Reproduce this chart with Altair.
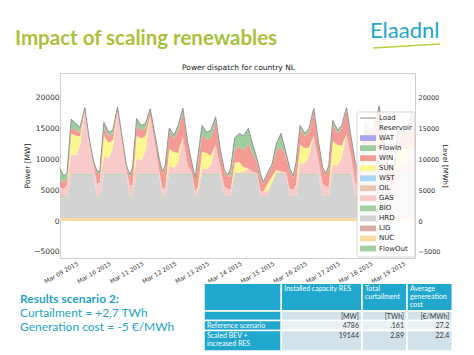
import altair as alt
import pandas as pd

# ---------------- data ----------------
# hours after 2015-03-09 00:00
HOURS = [
    -11.7, -9,
    -6.5, -3.5, 0, 3, 6.5, 10, 13, 15.5,
    17.5, 20.5, 24, 27, 30.5, 34, 37, 39.5,
    41.5, 44.5, 48, 51, 54.5, 58, 61, 63.5,
    65.5, 68.5, 72, 75, 78.5, 82, 85, 87.5,
    89.5, 92.5, 96, 99, 102.5, 106, 109, 111.5,
    113.5, 116.5, 120, 123, 126.5, 130, 133, 135.5,
    137.5, 140.5, 144, 147, 150.5, 154, 157, 159.5,
    161.5, 164.5, 168, 171, 174.5, 178, 181, 183.5,
    185.5, 188.5, 192, 195, 198.5, 202, 205, 207.5,
    209.5, 212.5, 216, 219, 222.5, 226, 229, 231.5,
    233.5, 236.5, 240, 243, 246.5, 248.8,
]
NUC = [480] * 88
BIO = [150] * 88
HRD = [
    3400, 3400,
    3400, 7000, 7000, 7000, 7000, 7000, 7000, 3400,
    3400, 7000, 7000, 7000, 7000, 7000, 7000, 3400,
    3400, 7000, 7000, 7000, 7000, 7000, 7000, 3400,
    3400, 7000, 7000, 7000, 7000, 7000, 7000, 3400,
    3400, 7000, 7000, 7000, 7000, 7000, 3400, 3400,
    3400, 7000, 7000, 7000, 7000, 7000, 7000, 3400,
    3400, 3400, 5500, 7000, 7000, 7000, 3400, 3400,
    3400, 7000, 7000, 7000, 7000, 7000, 3400, 3400,
    3400, 7000, 7000, 7000, 7000, 7000, 3400, 3400,
    3400, 7000, 7000, 7000, 7000, 7000, 3400, 3400,
    3400, 7000, 7000, 7000, 7000, 7000,
]
GAS = [
    1400, 1200,
    1800, 3200, 3000, 4600, 10300, 4800, 1200, 2000,
    2200, 2800, 2600, 4000, 10100, 5000, 600, 1800,
    1800, 2500, 2200, 3800, 9400, 4800, 600, 1300,
    1300, 1300, 1000, 1800, 6000, 1500, 200, 800,
    1200, 800, 800, 1500, 4700, 1000, 1500, 1200,
    1000, 300, 200, 400, 900, 300, 100, 800,
    700, 800, 300, 200, 400, 300, 1200, 1000,
    1500, 1800, 1700, 2800, 6200, 2200, 2000, 1600,
    1500, 1500, 1400, 2600, 6500, 2700, 2200, 1700,
    1800, 1800, 1600, 2800, 7000, 2500, 2300, 1700,
    1500, 1800, 1700, 2600, 5000, 3500,
]
SUN = [
    0, 0,
    0, 3300, 3200, 1500, 0, 0, 0, 0,
    0, 3400, 2400, 1500, 0, 0, 0, 0,
    0, 3700, 3600, 2300, 0, 0, 0, 0,
    0, 2800, 2500, 1600, 0, 0, 0, 0,
    300, 2800, 2600, 1500, 0, 0, 0, 0,
    0, 1500, 1700, 700, 0, 0, 0, 0,
    0, 1200, 800, 500, 0, 0, 0, 0,
    300, 2900, 2500, 1500, 0, 0, 0, 0,
    0, 3800, 3300, 2000, 0, 0, 0, 0,
    0, 3200, 3000, 1700, 0, 0, 0, 0,
    0, 2800, 2500, 1500, 0, 0,
]
WIN = [
    1200, 1000,
    1000, 900, 900, 700, 300, 400, 600, 1800,
    1500, 1300, 1200, 1100, 500, 600, 600, 1400,
    2400, 1600, 1300, 1300, 900, 1300, 1700, 2400,
    3300, 2700, 2200, 3700, 4100, 3300, 1500, 2000,
    3800, 2800, 2200, 2800, 3900, 2500, 2400, 2000,
    2200, 2300, 2500, 2800, 4000, 2900, 1700, 2100,
    1300, 1500, 1800, 3000, 4000, 2600, 2800, 2000,
    3000, 2500, 1900, 2600, 4100, 2700, 2400, 1800,
    3000, 2800, 1900, 2800, 3900, 2900, 3000, 2000,
    2700, 2700, 1800, 2700, 3700, 2600, 2600, 1800,
    2800, 2600, 1900, 2800, 4700, 4000,
]
FLOWIN = [
    1900, 1070,
    970, 1470, 1070, 770, 170, 170, 170, 270,
    270, 870, 570, 470, 270, 270, 270, 270,
    370, 1170, 770, 770, 270, 270, 270, 270,
    370, 670, 570, 770, 570, 270, 170, 170,
    1170, 1470, 1170, 1270, 670, 370, 270, 270,
    1270, 1770, 2170, 2270, 2470, 1370, 570, 670,
    270, 270, 270, 1170, 2170, 670, 470, 270,
    670, 670, 470, 470, 370, 270, 270, 270,
    470, 570, 470, 470, 370, 270, 270, 270,
    470, 670, 470, 470, 370, 270, 270, 270,
    470, 670, 470, 470, 370, 370,
]

STACK_NAMES = ["NUC", "HRD", "BIO", "GAS", "SUN", "WIN", "FlowIn"]
STACK_VALUES = [NUC, HRD, BIO, GAS, SUN, WIN, FLOWIN]

LEGEND_NAMES = ["Load", "Reservoir", "WAT", "FlowIn", "WIN", "SUN", "WST",
                "OIL", "GAS", "BIO", "HRD", "LIG", "NUC", "FlowOut"]
PATCH_NAMES = ["WAT", "FlowIn", "WIN", "SUN", "WST", "OIL", "GAS", "BIO",
               "HRD", "LIG", "NUC", "FlowOut"]
PATCH_COLORS = ["#aaa4ee", "#9dce9d", "#f59b96", "#fbf68f", "#acd6f5", "#ebc6b0",
                "#f9caca", "#a3cfa3", "#d3d3d3", "#d9aca7", "#fdd9a2", "#a3cfa3"]
COLOR_OF = dict(zip(PATCH_NAMES, PATCH_COLORS))

DAY_TICKS = list(range(9, 20))

HEADER = ["", "Installed capacity RES", "Total\ncurtailment", "Average\ngenereation\ncost"]
UNITS = ["[MW]", "[TWh]", "[€/MWh]"]
ROW_LABELS = ["Reference scenario", "Scaled BEV +\nincreased RES"]
CAPACITY = ["4786", "19144"]
CURTAILMENT = [".161", "2.89"]
GEN_COST = ["27.2", "22.4"]

RESULT_LINES = ["Results scenario 2:", "Curtailment = +2,7 TWh", "Generation cost = -5 €/MWh"]

# ---------------- tables ----------------
base = pd.Timestamp("2015-03-09 00:00")
times = [base + pd.Timedelta(hours=h) for h in HOURS]
n = len(HOURS)

# each band as a closed outline: its top edge forward in time, then its bottom edge back
rows = []
running = [0] * n
for name, vals in zip(STACK_NAMES, STACK_VALUES):
    top = [running[i] + vals[i] for i in range(n)]
    for i in range(n):
        rows.append({"t": times[i], "series": name, "v": top[i], "seq": i})
    for j, i in enumerate(range(n - 1, -1, -1)):
        rows.append({"t": times[i], "series": name, "v": running[i], "seq": n + j})
    running = top
band_df = pd.DataFrame(rows)
load_df = pd.DataFrame({"t": times, "load": running})

leg_df = pd.DataFrame({"name": LEGEND_NAMES, "idx": list(range(len(LEGEND_NAMES)))})
patch_df = leg_df[leg_df["name"].isin(PATCH_NAMES)]
loadleg_df = leg_df[leg_df["name"] == "Load"]

cells_df = pd.DataFrame([{"r": r, "c": c} for r in range(4) for c in range(4)])

left_txt = []
for c in range(1, 4):
    left_txt.append({"r": 0, "c": c, "txt": HEADER[c]})
for i, lab in enumerate(ROW_LABELS):
    left_txt.append({"r": 2 + i, "c": 0, "txt": lab})
left_df = pd.DataFrame(left_txt)

right_txt = []
for c, u in enumerate(UNITS):
    right_txt.append({"r": 1, "c": c + 1, "txt": u})
for i in range(2):
    right_txt.append({"r": 2 + i, "c": 1, "txt": CAPACITY[i]})
    right_txt.append({"r": 2 + i, "c": 2, "txt": CURTAILMENT[i]})
    right_txt.append({"r": 2 + i, "c": 3, "txt": GEN_COST[i]})
right_df = pd.DataFrame(right_txt)

res_df = pd.DataFrame({"txt": RESULT_LINES, "line": [0, 1, 2]})

# ---------------- scales ----------------
xdom = [alt.DateTime(year=2015, month=3, date=8, hours=12, minutes=18),
        alt.DateTime(year=2015, month=3, date=19, hours=8, minutes=48)]
xs = alt.Scale(domain=xdom)
ys = alt.Scale(domain=[-6000, 24000], nice=False, zero=False)
color_scale = alt.Scale(domain=PATCH_NAMES, range=PATCH_COLORS)
leg_scale = alt.Scale(domain=[0, 13], range=[45, 175.5], nice=False, zero=False)
tx = alt.Scale(domain=[0, 1, 2, 3, 4], range=[144, 221.3, 302, 347, 392.3], nice=False, zero=False)
ty = alt.Scale(domain=[0, 1, 2, 3, 4], range=[210.3, 238, 247.5, 257.5, 278], nice=False, zero=False)
res_scale = alt.Scale(domain=[0, 2], range=[230, 258], nice=False, zero=False)

one = alt.Data(values=[{}])

band_layers = []
for name in STACK_NAMES:
    band_layers.append(
        alt.Chart(band_df).transform_filter(alt.datum.series == name)
        .mark_line(filled=True, color=COLOR_OF[name], strokeWidth=0, interpolate="linear")
        .encode(
            x=alt.X("t:T", scale=xs, axis=None),
            y=alt.Y("v:Q", scale=ys, axis=None),
            order=alt.Order("seq:Q"),
        )
    )

load_line = alt.Chart(load_df).mark_line(color="#8a8a8a", strokeWidth=0.9).encode(
    x=alt.X("t:T", scale=xs, axis=alt.Axis(
        values=[alt.DateTime(year=2015, month=3, date=d) for d in DAY_TICKS],
        format="%b %d %Y", labelAngle=330, labelAlign="right", labelBaseline="top",
        labelFontSize=6, labelColor="#333333", ticks=False, domain=False, grid=False,
        title=None, labelPadding=2, labelOverlap=False, labelFlush=False)),
    y=alt.Y("load:Q", scale=ys, axis=alt.Axis(
        orient="left", values=[-5000, 0, 5000, 10000, 15000, 20000], format="d",
        labelFontSize=7.5, labelColor="#333333", ticks=False, domain=False, grid=False,
        title="Power [MW]", titleFontSize=7.5, titleFontWeight="normal", titleColor="#222222",
        labelPadding=1, titlePadding=2)),
)

right_axis = alt.Chart(pd.DataFrame({"v": [-5000, 20000]})).mark_tick(opacity=0).encode(
    y=alt.Y("v:Q", scale=ys, axis=alt.Axis(
        orient="right", values=[-5000, 0, 5000, 10000, 15000, 20000], format="d",
        labelFontSize=6.5, labelColor="#333333", ticks=False, domain=False, grid=False,
        title="Level [MWh]", titleFontSize=7, titleFontWeight="normal", titleColor="#222222",
        labelPadding=3, titlePadding=2)),
    x=alt.value(350),
)

leg_box = alt.Chart(one).mark_rect(fill="white", fillOpacity=0.85, stroke="#cccccc",
                                   strokeWidth=0.8, cornerRadius=2).encode(
    x=alt.value(297), x2=alt.value(355), y=alt.value(39), y2=alt.value(184))

leg_patch = alt.Chart(patch_df).mark_point(
    shape="M-1,-0.36H1V0.36H-1Z", size=256, filled=True, opacity=1, strokeWidth=0).encode(
    x=alt.value(308),
    y=alt.Y("idx:Q", scale=leg_scale, axis=None),
    color=alt.Color("name:N", scale=color_scale, legend=None),
)
leg_load = alt.Chart(loadleg_df).mark_rule(color="#8a8a8a", strokeWidth=1).encode(
    x=alt.value(300), x2=alt.value(316), y=alt.Y("idx:Q", scale=leg_scale, axis=None))
leg_text = alt.Chart(leg_df).mark_text(align="left", baseline="middle", font="DejaVu Sans",
                                       fontSize=7, color="#262626").encode(
    x=alt.value(319), y=alt.Y("idx:Q", scale=leg_scale, axis=None), text="name:N")

plot_title = alt.Chart(one).mark_text(text="Power dispatch for country NL", align="center",
                                      baseline="alphabetic", font="DejaVu Sans", fontSize=7.5,
                                      color="#222222").encode(x=alt.value(178.5), y=alt.value(-3))
slide_title = alt.Chart(one).mark_text(text="Impact of scaling renewables", align="left",
                                       baseline="alphabetic", font="Lato", fontSize=20.5,
                                       fontWeight="bold", color="#a8c23c").encode(
    x=alt.value(-45), y=alt.value(-28))
logo = alt.Chart(one).mark_text(text="Elaadnl", align="left", baseline="alphabetic", font="Lato",
                                fontSize=22, color="#1fa6cd").encode(x=alt.value(310), y=alt.value(-35))
swoosh = alt.Chart(one).mark_rule(color="#b9cf3d", strokeWidth=1.5).encode(
    x=alt.value(313), y=alt.value(-25), x2=alt.value(380), y2=alt.value(-29))

res_bold = alt.Chart(res_df[res_df["line"] == 0]).mark_text(
    align="left", baseline="alphabetic", font="Lato", fontSize=12, fontWeight="bold",
    color="#27a3c8").encode(x=alt.value(-40), y=alt.Y("line:Q", scale=res_scale, axis=None), text="txt:N")
res_reg = alt.Chart(res_df[res_df["line"] > 0]).mark_text(
    align="left", baseline="alphabetic", font="Lato", fontSize=12,
    color="#27a3c8").encode(x=alt.value(-40), y=alt.Y("line:Q", scale=res_scale, axis=None), text="txt:N")

table_cells = alt.Chart(cells_df).transform_calculate(
    c1="datum.c + 1", r1="datum.r + 1",
    kind="datum.r == 0 || datum.c == 0 ? 'teal' : (datum.r == 2 ? 'pale' : 'mid')",
).mark_rect(stroke="white", strokeWidth=1.5).encode(
    x=alt.X("c:Q", scale=tx, axis=None), x2="c1:Q",
    y=alt.Y("r:Q", scale=ty, axis=None), y2="r1:Q",
    color=alt.Color("kind:N", scale=alt.Scale(domain=["teal", "pale", "mid"],
                                              range=["#20a7ce", "#e9f1f5", "#d2e2ea"]), legend=None),
)
table_left = alt.Chart(left_df).mark_text(
    align="left", baseline="top", lineBreak="\n", lineHeight=8, font="Lato", fontSize=7,
    color="white", dx=3, dy=1.5).encode(
    x=alt.X("c:Q", scale=tx, axis=None), y=alt.Y("r:Q", scale=ty, axis=None), text="txt:N")
table_right = alt.Chart(right_df).transform_calculate(c1="datum.c + 1").mark_text(
    align="right", baseline="top", font="Lato", fontSize=7, color="#3a3a3a", dx=-3, dy=1.5).encode(
    x=alt.X("c1:Q", scale=tx, axis=None), y=alt.Y("r:Q", scale=ty, axis=None), text="txt:N")

chart = alt.layer(
    *band_layers, load_line, right_axis, leg_box, leg_patch, leg_load, leg_text,
    plot_title, slide_title, logo, swoosh, res_bold, res_reg,
    table_cells, table_left, table_right,
).resolve_scale(
    x="independent", y="independent", color="independent"
).properties(
    width=355, height=185, autosize="none",
    padding={"left": 60, "top": 73, "right": 59, "bottom": 97},
    background="white",
).configure_view(
    stroke="#cfcfcf", strokeWidth=1, fill="white"
).configure_axis(
    labelFont="DejaVu Sans", titleFont="DejaVu Sans"
)

chart.save("out.html", embed_options={"renderer": "svg", "actions": False})
